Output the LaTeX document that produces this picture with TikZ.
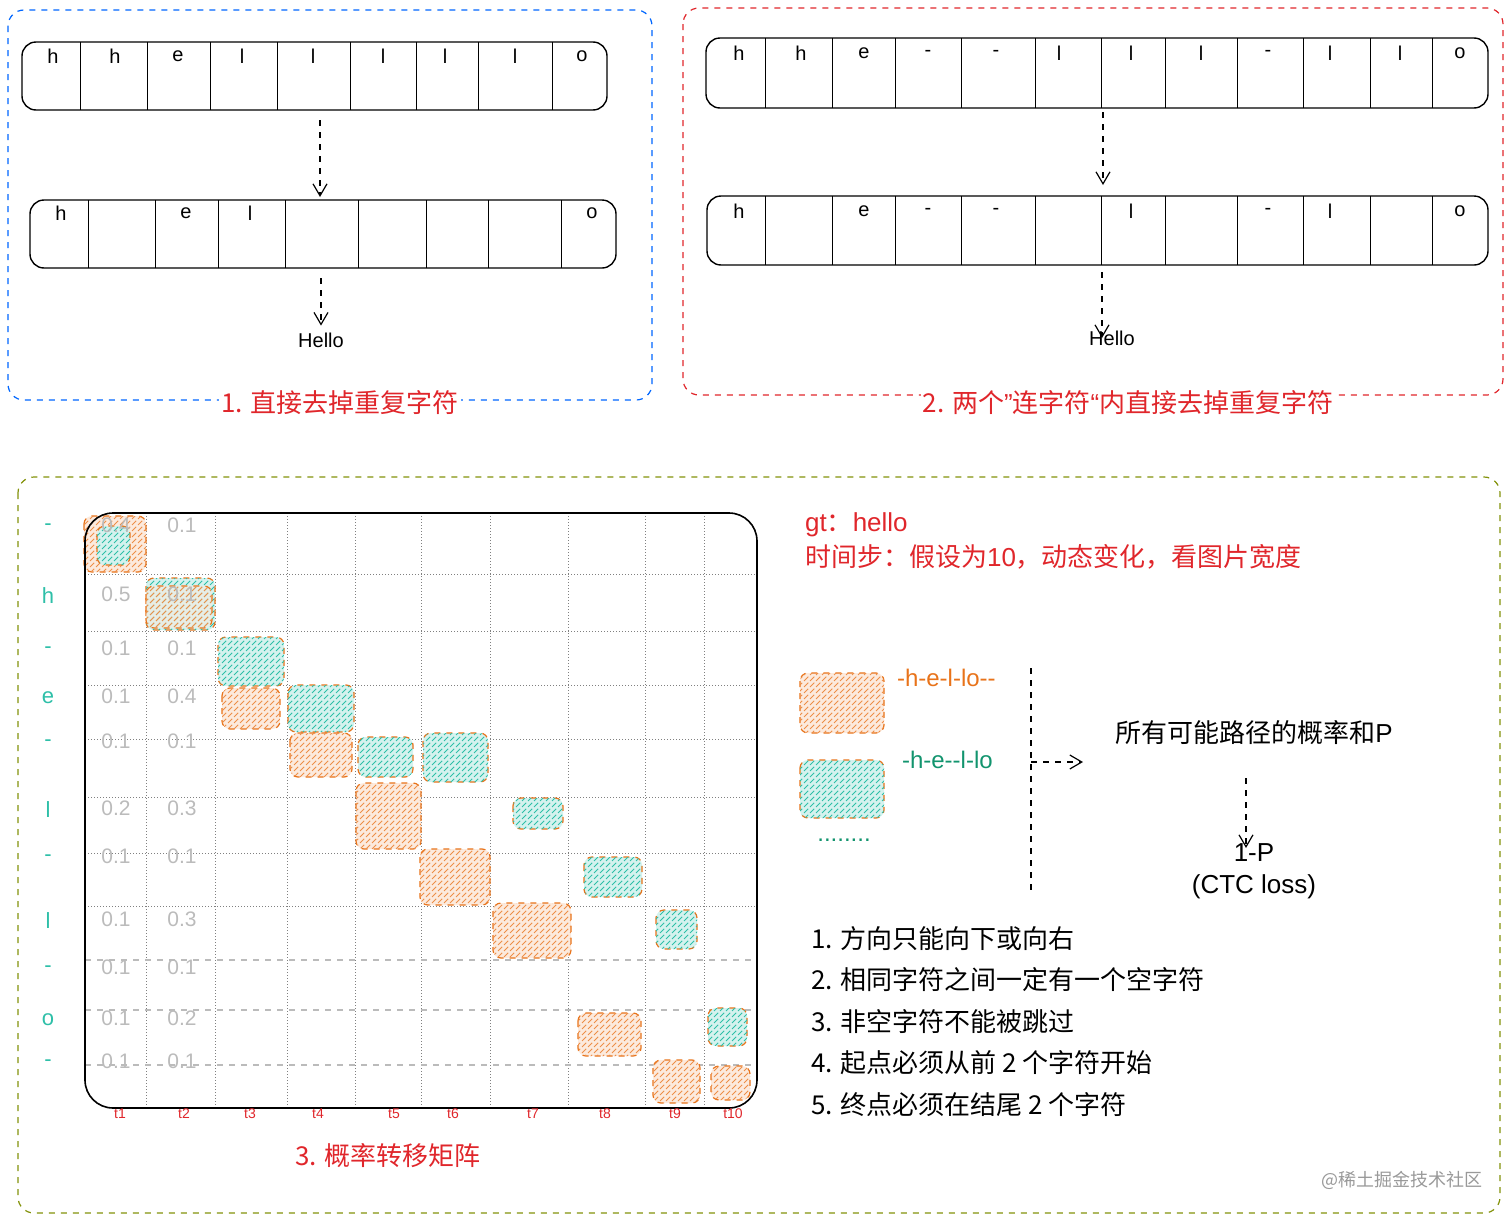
\documentclass[tikz,border=0pt]{standalone}
\usepackage{fontspec}
\setmainfont{Liberation Sans}
\newfontfamily\cjk{Noto Sans CJK SC}
\newfontfamily\lat{Liberation Sans}
\usetikzlibrary{patterns,arrows.meta}
\definecolor{myred}{HTML}{E0262B}
\definecolor{myorange}{HTML}{E8731A}
\definecolor{myteal}{HTML}{2EBFA8}
\definecolor{mygreen}{HTML}{12946E}
\definecolor{mygray}{HTML}{BBBBBB}
\begin{document}
\begin{tikzpicture}[x=0.5pt,y=-0.5pt,
  frame/.style={dashed,rounded corners=8pt,line width=0.6pt},
  rowbox/.style={draw,rounded corners=7pt,line width=0.7pt},
  arr/.style={dashed,line width=0.6pt,-{Straight Barb[length=6pt,width=7pt]}},
  lt/.style={font=\fontsize{10}{12}\selectfont},
  orp/.style={draw=myorange,dashed,rounded corners=4pt,line width=0.6pt,fill=myorange!15,postaction={pattern=north east lines,pattern color=myorange!80}},
  tep/.style={draw=myorange,dashed,rounded corners=4pt,line width=0.6pt,fill=myteal!20,postaction={pattern=north east lines,pattern color=myteal}},
  val/.style={text=mygray,font=\fontsize{10.5}{12}\selectfont},
  rl/.style={text=myteal,font=\fontsize{11}{12}\selectfont},
  tl/.style={text=myred,font=\fontsize{7}{8}\selectfont},
  grid/.style={densely dotted,gray,line width=0.5pt}]
\useasboundingbox (0,0) rectangle (1512,1221);
% frames
\draw[frame,draw=blue!60!cyan] (8,10) rectangle (652,400);
\draw[frame,draw=myred] (683,8) rectangle (1503,395);
\draw[frame,draw=olive!80!green] (18,477) rectangle (1500,1213);
\node[fill=white,inner sep=1pt,text=myred,font=\cjk\fontsize{13}{15}\selectfont] (t1) at (340,403) {1. 直接去掉重复字符};
\node[fill=white,inner sep=1pt,text=myred,font=\cjk\fontsize{13}{15}\selectfont] (t2) at (1128,403) {2. 两个{\lat ”}连字符{\lat “}内直接去掉重复字符};
% box1 rows
\draw[rowbox] (22,42) rectangle (607,110);
\foreach \x in {80,147,210,277,350,416,478,552} \draw (\x,42) -- (\x,110);
\foreach \x/\c [count=\i] in {53/h,115/h,178/e,242/l,313/l,383/l,445/l,515/l,582/o} \node[lt] (a\i) at (\x,56) {\c};
\draw[rowbox] (30,200) rectangle (616,268);
\foreach \x in {88,155,218,285,358,426,488,561} \draw (\x,200) -- (\x,268);
\foreach \x/\c [count=\i] in {61/h,186/e,250/l,592/o} \node[lt] (b\i) at (\x,213) {\c};
\coordinate (r1b) at (320,120); \coordinate (r2t) at (320,197);
\draw[arr] (r1b) -- (r2t);
\node[lt] (hello1) at (321,340) {Hello};
\coordinate (r2b) at (321,278);
\draw[arr] (r2b) -- (hello1.north);
% box2 rows
\draw[rowbox] (706,38) rectangle (1488,108);
\draw[rowbox] (707,196) rectangle (1488,265);
\foreach \x in {765,832,895,961,1035,1101,1165,1237,1303,1370,1432} {\draw (\x,38) -- (\x,108); \draw (\x,196) -- (\x,265);}
\foreach \x/\c [count=\i] in {739/h,801/h,864/e,928/-,996/-,1059/l,1131/l,1201/l,1268/-,1330/l,1400/l,1460/o} \node[lt] (c\i) at (\x,53) {\c};
\foreach \x/\c [count=\i] in {739/h,864/e,928/-,996/-,1131/l,1268/-,1330/l,1460/o} \node[lt] (d\i) at (\x,211) {\c};
\coordinate (s1b) at (1103,112); \coordinate (s2t) at (1103,185);
\draw[arr] (s1b) -- (s2t);
\node[lt] (hello2) at (1112,338) {Hello};
\coordinate (s2b) at (1102,272);
\draw[arr] (s2b) -- (1102,338);
% matrix
\foreach \x in {146,215,287,355,421,490,568,645,704} \draw[grid] (\x,516) -- (\x,1106);
\foreach \y in {574,631,685,739,797,853,906} \draw[grid] (85,\y) -- (757,\y);
\foreach \y in {960,1010,1065} \draw[dashed,mygray,line width=0.6pt] (85,\y) -- (757,\y);
% patches
\draw[orp] (84,516) rectangle (146,572);
\draw[tep] (97,526) rectangle (130,565);
\draw[tep] (146,578) rectangle (215,630);
\draw[orp,fill opacity=0.5] (146,586) rectangle (212,628);
\draw[tep] (218,637) rectangle (284,686);
\draw[orp] (222,688) rectangle (280,729);
\draw[tep] (288,685) rectangle (354,732);
\draw[orp] (290,733) rectangle (352,777);
\draw[tep] (358,737) rectangle (413,777);
\draw[tep] (423,733) rectangle (488,782);
\draw[orp] (356,783) rectangle (421,849);
\draw[tep] (513,798) rectangle (563,829);
\draw[orp] (420,849) rectangle (490,905);
\draw[tep] (584,857) rectangle (642,897);
\draw[orp] (493,903) rectangle (571,958);
\draw[tep] (656,910) rectangle (697,949);
\draw[orp] (578,1013) rectangle (641,1056);
\draw[tep] (708,1008) rectangle (747,1046);
\draw[orp] (653,1060) rectangle (700,1103);
\draw[orp] (711,1066) rectangle (750,1100);
\draw[rounded corners=14pt,line width=0.8pt] (85,513) rectangle (757,1108);
\foreach \y/\c/\a/\b [count=\i] in {527/-/0.4/0.1,596/h/0.5/0.1,650/-/0.1/0.1,698/e/0.1/0.4,743/-/0.1/0.1,810/l/0.2/0.3,858/-/0.1/0.1,921/l/0.1/0.3,969/-/0.1/0.1,1020/o/0.1/0.2,1063/-/0.1/0.1} {
  \node[rl] (rl\i) at (48,\y) {\c};
  \node[val] (va\i) at (116,\y-2) {\a};
  \node[val] (vb\i) at (182,\y-2) {\b};}
\foreach \x/\c [count=\i] in {120/t1,184/t2,250/t3,318/t4,394/t5,453/t6,533/t7,605/t8,675/t9,733/t10} \node[tl] (tt\i) at (\x,1114) {\c};
\node[text=myred,font=\cjk\fontsize{13}{15}\selectfont] (t3) at (388,1156) {3. 概率转移矩阵};
% right side
\node[anchor=west,text=myred,font=\fontsize{13}{15}\selectfont] (gt) at (798,525) {gt{\cjk：}hello};
\node[anchor=west,text=myred,font=\cjk\fontsize{13}{15}\selectfont] (ts) at (798,557) {时间步：假设为{\lat 10}，动态变化，看图片宽度};
\draw[orp] (800,673) rectangle (884,733);
\node[anchor=west,text=myorange,font=\fontsize{12}{14}\selectfont] (p1) at (890,678) {-h-e-l-lo{-}{-}};
\draw[tep] (800,760) rectangle (884,818);
\node[anchor=west,text=mygreen,font=\fontsize{12}{14}\selectfont] (p2) at (895,760) {-h-e{-}{-}l-lo};
\node[text=mygreen,font=\fontsize{12}{14}\selectfont] (dots) at (844,840) {........};
\draw[dashed,line width=0.6pt] (1031,668) -- (1031,895);
\node[font=\cjk\fontsize{13}{15}\selectfont] (sum) at (1254,733) {所有可能路径的概率和{\lat P}};
\coordinate (vm) at (1031,762);
\draw[arr] (vm) -- (1083,762);
\node[font=\fontsize{13}{15}\selectfont] (omp) at (1254,853) {1-P};
\node[font=\fontsize{13}{15}\selectfont] (ctc) at (1254,887) {(CTC loss)};
\draw[arr] (1246,778) -- (1246,848);
\foreach \y/\s [count=\i] in {939/1. 方向只能向下或向右,980/2. 相同字符之间一定有一个空字符,1022/3. 非空字符不能被跳过,1063/4. 起点必须从前 2 个字符开始,1105/5. 终点必须在结尾 2 个字符} \node[anchor=west,font=\cjk\fontsize{13}{15}\selectfont] (li\i) at (804,\y) {\s};
\node[text=gray!80,font=\cjk\fontsize{9}{11}\selectfont] (wm) at (1402,1180) {@稀土掘金技术社区};
\end{tikzpicture}
\end{document}
